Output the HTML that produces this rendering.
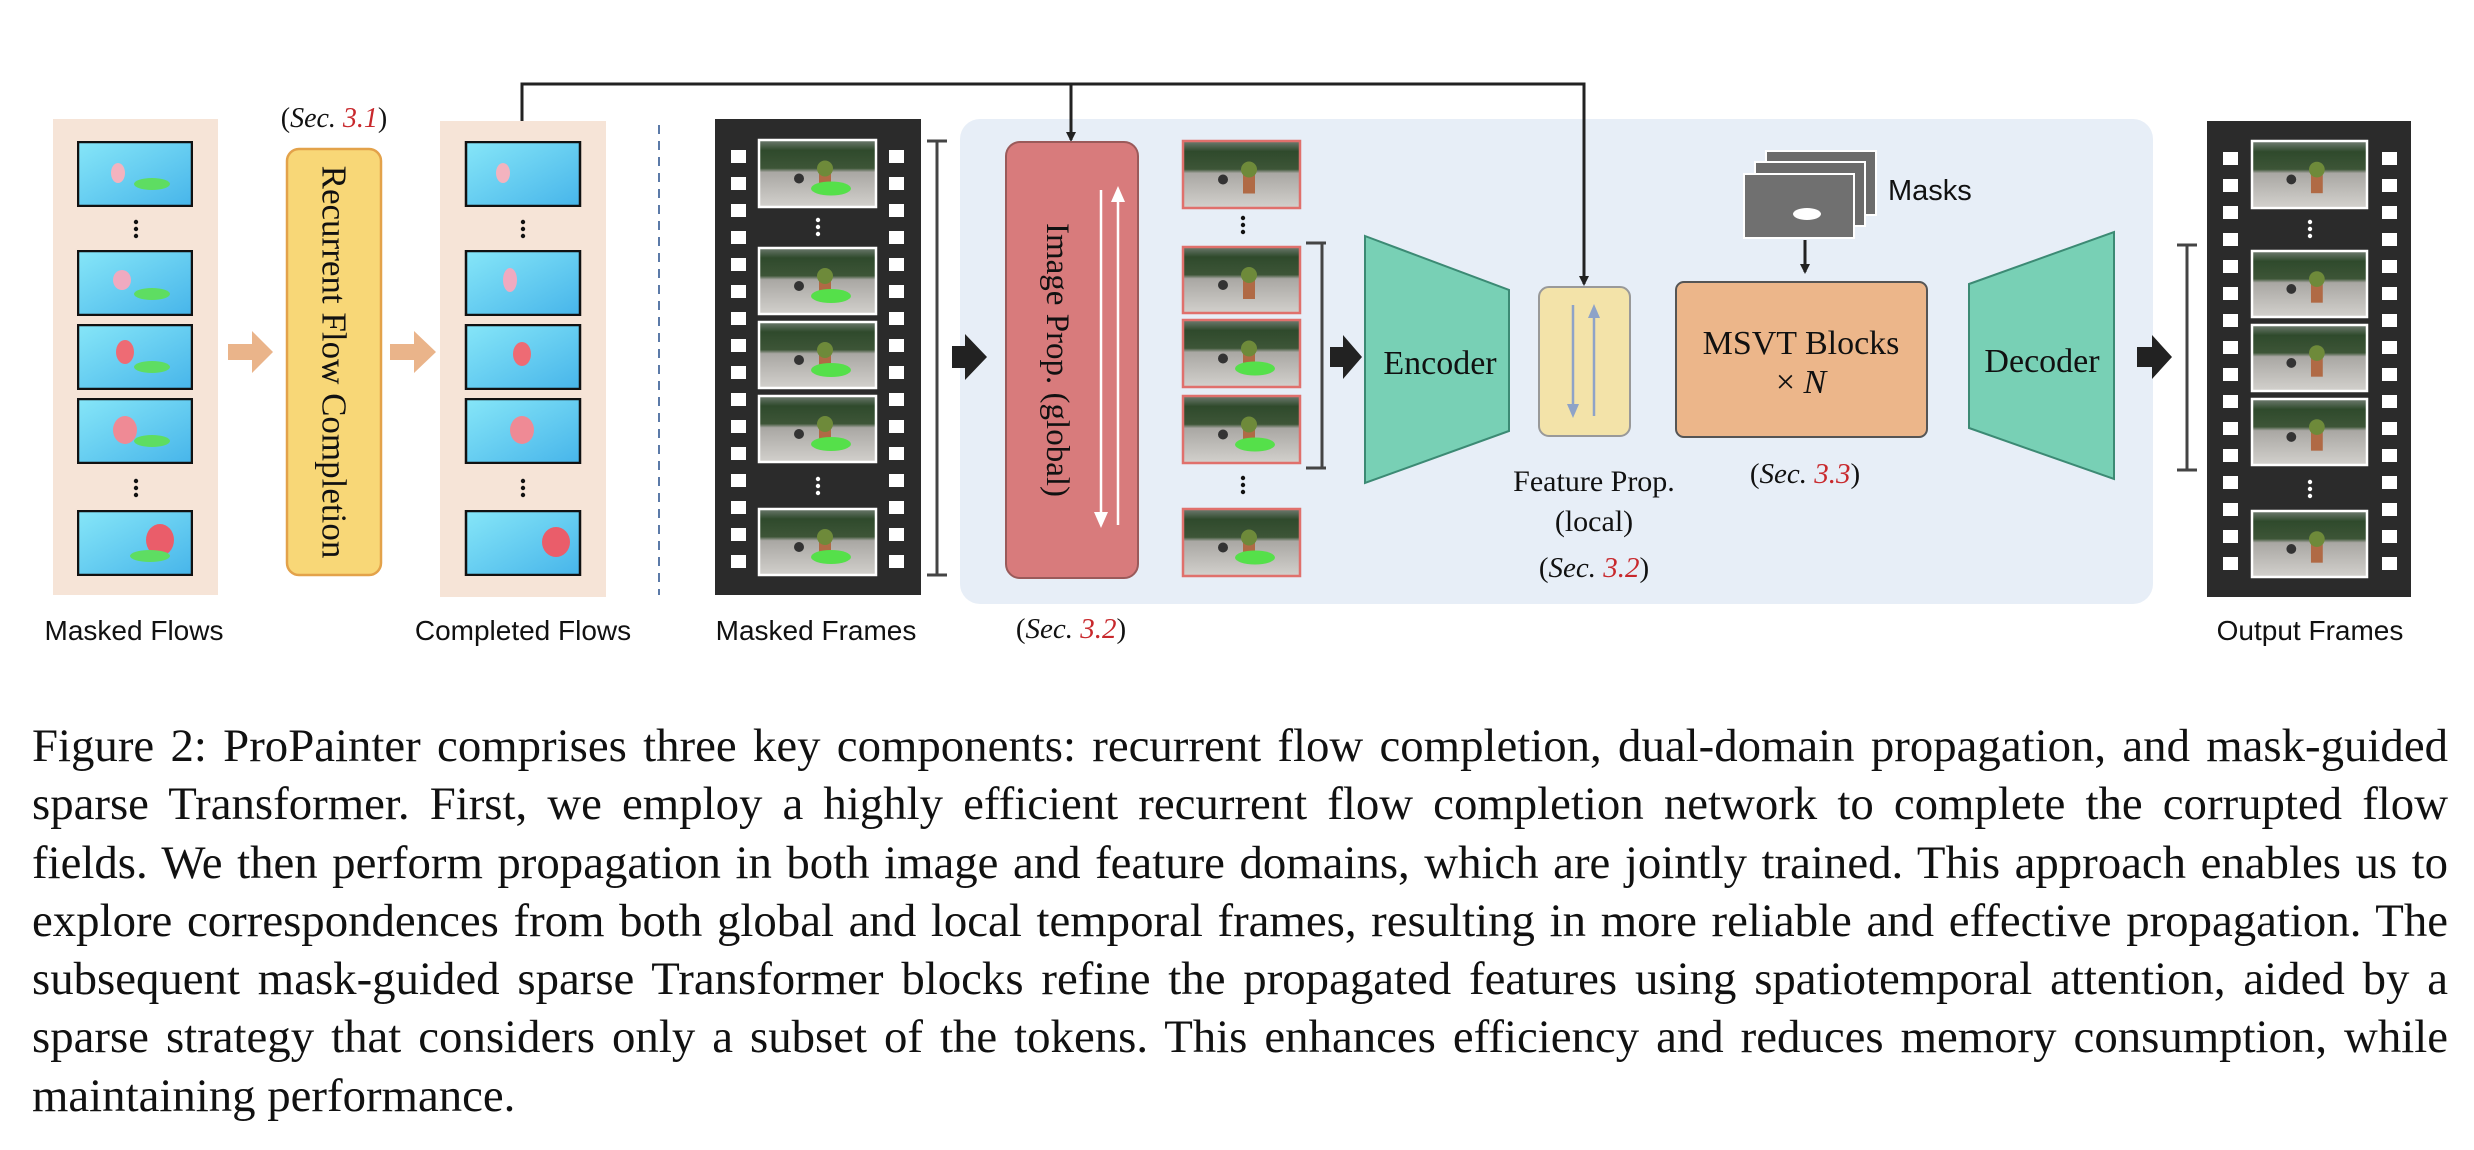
<!DOCTYPE html>
<html><head><meta charset="utf-8"><style>
html,body{margin:0;padding:0;background:#fff;}
body{width:2474px;height:1150px;position:relative;overflow:hidden;}
svg{position:absolute;left:0;top:0;}
.cap{position:absolute;left:32px;width:2416px;font-family:"Liberation Serif",serif;font-size:46.8px;line-height:58.3px;color:#111;}
.cap div{text-align:justify;text-align-last:justify;white-space:nowrap;height:58.3px;}
.cap div.last{text-align-last:left;}
</style></head><body>
<svg width="2474" height="720" viewBox="0 0 2474 720" xmlns="http://www.w3.org/2000/svg">
<defs>
<linearGradient id="fg" x1="0" y1="0" x2="1" y2="1"><stop offset="0" stop-color="#86e6f8"/><stop offset="1" stop-color="#47b5ea"/></linearGradient>
<linearGradient id="pg" x1="0" y1="0" x2="0" y2="1"><stop offset="0" stop-color="#6d7a6e"/><stop offset="0.15" stop-color="#2f4a2c"/><stop offset="0.42" stop-color="#3d5537"/><stop offset="0.48" stop-color="#a9a7a3"/><stop offset="1" stop-color="#d2d0cc"/></linearGradient>
<symbol id="flow" viewBox="0 0 116 66"><rect x="1" y="1" width="114" height="64" fill="url(#fg)" stroke="#111" stroke-width="2.5"/></symbol>
<symbol id="photo" viewBox="0 0 117 66"><rect x="0" y="0" width="117" height="66" fill="url(#pg)"/><rect x="60" y="30" width="12" height="22" fill="#b06a45"/><circle cx="66" cy="28" r="8" fill="#6e8a3a"/><circle cx="40" cy="38" r="5" fill="#333"/></symbol>
<symbol id="pm" viewBox="0 0 117 66"><use href="#photo" width="117" height="66"/><ellipse cx="72" cy="48" rx="20" ry="7" fill="#55e04a"/></symbol>
<marker id="ah" markerWidth="10" markerHeight="10" refX="8" refY="5" orient="auto" markerUnits="userSpaceOnUse"><path d="M0,0 L10,5 L0,10 z" fill="#222"/></marker>
</defs>
<rect x="960" y="119" width="1193" height="485" rx="20" fill="#e7eef7"/>
<rect x="53" y="119" width="165" height="476" fill="#f6e4d7"/>
<g>
<use href="#flow" x="77" y="141" width="116" height="66"/>
<use href="#flow" x="77" y="250" width="116" height="66"/>
<use href="#flow" x="77" y="324" width="116" height="66"/>
<use href="#flow" x="77" y="398" width="116" height="66"/>
<use href="#flow" x="77" y="510" width="116" height="66"/>
<ellipse cx="118" cy="173" rx="7" ry="10" fill="#f3b3bf"/><ellipse cx="152" cy="184" rx="18" ry="6" fill="#5edd62"/>
<ellipse cx="122" cy="280" rx="9" ry="10" fill="#f0aac0"/><ellipse cx="152" cy="294" rx="18" ry="6" fill="#5edd62"/>
<ellipse cx="125" cy="352" rx="9" ry="12" fill="#ee6b74"/><ellipse cx="152" cy="367" rx="18" ry="6" fill="#5edd62"/>
<ellipse cx="125" cy="430" rx="12" ry="14" fill="#ef8a95"/><ellipse cx="152" cy="441" rx="18" ry="6" fill="#5edd62"/>
<ellipse cx="160" cy="540" rx="14" ry="16" fill="#ea5d6a"/><ellipse cx="150" cy="556" rx="20" ry="6" fill="#5edd62"/>
</g>
<g fill="#111"><circle cx="136" cy="222" r="2.2"/><circle cx="136" cy="229" r="2.2"/><circle cx="136" cy="236" r="2.2"/>
<circle cx="136" cy="481" r="2.2"/><circle cx="136" cy="488" r="2.2"/><circle cx="136" cy="495" r="2.2"/></g>
<path d="M228,344 L252,344 L252,331 L273,352 L252,373 L252,360 L228,360 z" fill="#eab48a"/>
<path d="M390,344 L414,344 L414,331 L436,352 L414,373 L414,360 L390,360 z" fill="#eab48a"/>
<rect x="287" y="149" width="94" height="426" rx="12" fill="#f8d777" stroke="#e3a24a" stroke-width="2.5"/>
<text transform="translate(334,362) rotate(90)" text-anchor="middle" dominant-baseline="central" font-family="Liberation Serif,serif" font-size="35" fill="#111">Recurrent Flow Completion</text>
<text x="334" y="127" text-anchor="middle" font-family="Liberation Serif,serif" font-size="28" fill="#111">(<tspan font-style="italic">Sec.</tspan> <tspan font-style="italic" fill="#c8282c">3.1</tspan>)</text>
<rect x="440" y="121" width="166" height="476" fill="#f6e4d7"/>
<use href="#flow" x="464" y="141" width="118" height="66"/>
<use href="#flow" x="464" y="250" width="118" height="66"/>
<use href="#flow" x="464" y="324" width="118" height="66"/>
<use href="#flow" x="464" y="398" width="118" height="66"/>
<use href="#flow" x="464" y="510" width="118" height="66"/>
<ellipse cx="503" cy="173" rx="7" ry="10" fill="#f3b3bf"/><ellipse cx="510" cy="280" rx="7" ry="12" fill="#f0aac0"/>
<ellipse cx="522" cy="354" rx="9" ry="12" fill="#ee6b74"/><ellipse cx="522" cy="430" rx="12" ry="14" fill="#ef8a95"/>
<ellipse cx="556" cy="542" rx="14" ry="15" fill="#ea5d6a"/>
<g fill="#111"><circle cx="523" cy="222" r="2.2"/><circle cx="523" cy="229" r="2.2"/><circle cx="523" cy="236" r="2.2"/>
<circle cx="523" cy="481" r="2.2"/><circle cx="523" cy="488" r="2.2"/><circle cx="523" cy="495" r="2.2"/></g>
<line x1="659" y1="125" x2="659" y2="595" stroke="#5b7aa8" stroke-width="2" stroke-dasharray="9,7"/>
<path d="M522,121 L522,84 L1584,84 L1584,284" fill="none" stroke="#222" stroke-width="3" marker-end="url(#ah)"/>
<path d="M1071,84 L1071,140" fill="none" stroke="#222" stroke-width="3" marker-end="url(#ah)"/>
<rect x="715" y="119" width="206" height="476" fill="#2b2b2b"/>
<g fill="#fff">
<rect x="731" y="150" width="15" height="13"/><rect x="731" y="177" width="15" height="13"/><rect x="731" y="204" width="15" height="13"/><rect x="731" y="231" width="15" height="13"/><rect x="731" y="258" width="15" height="13"/><rect x="731" y="285" width="15" height="13"/><rect x="731" y="312" width="15" height="13"/><rect x="731" y="339" width="15" height="13"/><rect x="731" y="366" width="15" height="13"/><rect x="731" y="393" width="15" height="13"/><rect x="731" y="420" width="15" height="13"/><rect x="731" y="447" width="15" height="13"/><rect x="731" y="474" width="15" height="13"/><rect x="731" y="501" width="15" height="13"/><rect x="731" y="528" width="15" height="13"/><rect x="731" y="555" width="15" height="13"/>
<rect x="889" y="150" width="15" height="13"/><rect x="889" y="177" width="15" height="13"/><rect x="889" y="204" width="15" height="13"/><rect x="889" y="231" width="15" height="13"/><rect x="889" y="258" width="15" height="13"/><rect x="889" y="285" width="15" height="13"/><rect x="889" y="312" width="15" height="13"/><rect x="889" y="339" width="15" height="13"/><rect x="889" y="366" width="15" height="13"/><rect x="889" y="393" width="15" height="13"/><rect x="889" y="420" width="15" height="13"/><rect x="889" y="447" width="15" height="13"/><rect x="889" y="474" width="15" height="13"/><rect x="889" y="501" width="15" height="13"/><rect x="889" y="528" width="15" height="13"/><rect x="889" y="555" width="15" height="13"/>
</g>
<use href="#pm" x="759" y="140" width="117" height="67"/><use href="#pm" x="759" y="248" width="117" height="66"/><use href="#pm" x="759" y="322" width="117" height="66"/><use href="#pm" x="759" y="396" width="117" height="66"/><use href="#pm" x="759" y="509" width="117" height="66"/>
<g fill="none" stroke="#fff" stroke-width="2.5"><rect x="759" y="140" width="117" height="67"/><rect x="759" y="248" width="117" height="66"/><rect x="759" y="322" width="117" height="66"/><rect x="759" y="396" width="117" height="66"/><rect x="759" y="509" width="117" height="66"/></g>
<g fill="#fff"><circle cx="818" cy="220" r="2.2"/><circle cx="818" cy="227" r="2.2"/><circle cx="818" cy="234" r="2.2"/><circle cx="818" cy="479" r="2.2"/><circle cx="818" cy="486" r="2.2"/><circle cx="818" cy="493" r="2.2"/></g>
<path d="M927,141 L947,141 M937,141 L937,575 M927,575 L947,575" stroke="#444" stroke-width="3" fill="none"/>
<path d="M952,346 L965,346 L965,334 L987,357 L965,380 L965,368 L952,368 z" fill="#222"/>
<path d="M1330,347 L1343,347 L1343,335 L1362,357 L1343,379 L1343,367 L1330,367 z" fill="#222"/>
<path d="M2137,347 L2152,347 L2152,335 L2172,357 L2152,379 L2152,367 L2137,367 z" fill="#222"/>
<rect x="1006" y="142" width="132" height="436" rx="14" fill="#d87b7c" stroke="#9a5a5a" stroke-width="2"/>
<text transform="translate(1057,360) rotate(90)" text-anchor="middle" dominant-baseline="central" font-family="Liberation Serif,serif" font-size="33" fill="#111">Image Prop. (global)</text>
<line x1="1101" y1="190" x2="1101" y2="515" stroke="#fff" stroke-width="2.5"/><path d="M1094,512 L1101,528 L1108,512 z" fill="#fff"/>
<line x1="1118" y1="200" x2="1118" y2="525" stroke="#fff" stroke-width="2.5"/><path d="M1111,202 L1118,186 L1125,202 z" fill="#fff"/>
<text x="1071" y="638" text-anchor="middle" font-family="Liberation Serif,serif" font-size="29" fill="#111">(<tspan font-style="italic">Sec.</tspan> <tspan font-style="italic" fill="#c8282c">3.2</tspan>)</text>
<use href="#photo" x="1183" y="141" width="117" height="67"/><use href="#photo" x="1183" y="247" width="117" height="66"/><use href="#pm" x="1183" y="320" width="117" height="67"/><use href="#pm" x="1183" y="396" width="117" height="67"/><use href="#pm" x="1183" y="509" width="117" height="67"/>
<g fill="none" stroke="#e0706c" stroke-width="2.5"><rect x="1183" y="141" width="117" height="67"/><rect x="1183" y="247" width="117" height="66"/><rect x="1183" y="320" width="117" height="67"/><rect x="1183" y="396" width="117" height="67"/><rect x="1183" y="509" width="117" height="67"/></g>
<g fill="#111"><circle cx="1243" cy="218" r="2.2"/><circle cx="1243" cy="225" r="2.2"/><circle cx="1243" cy="232" r="2.2"/><circle cx="1243" cy="478" r="2.2"/><circle cx="1243" cy="485" r="2.2"/><circle cx="1243" cy="492" r="2.2"/></g>
<path d="M1306,243 L1326,243 M1322,243 L1322,468 M1306,468 L1326,468" stroke="#444" stroke-width="3" fill="none"/>
<path d="M1365,236 L1509,290 L1509,431 L1365,483 z" fill="#78d0b5" stroke="#3c8a74" stroke-width="2"/>
<text x="1440" y="374" text-anchor="middle" font-family="Liberation Serif,serif" font-size="34" fill="#111">Encoder</text>
<rect x="1539" y="287" width="91" height="149" rx="10" fill="#f3e3a9" stroke="#999" stroke-width="2"/>
<line x1="1573" y1="305" x2="1573" y2="408" stroke="#8ea3c8" stroke-width="2.5"/><path d="M1567,404 L1573,418 L1579,404 z" fill="#8ea3c8"/>
<line x1="1594" y1="315" x2="1594" y2="416" stroke="#8ea3c8" stroke-width="2.5"/><path d="M1588,318 L1594,304 L1600,318 z" fill="#8ea3c8"/>
<text x="1594" y="491" text-anchor="middle" font-family="Liberation Serif,serif" font-size="30" fill="#111">Feature Prop.</text>
<text x="1594" y="531" text-anchor="middle" font-family="Liberation Serif,serif" font-size="30" fill="#111">(local)</text>
<text x="1594" y="577" text-anchor="middle" font-family="Liberation Serif,serif" font-size="29" fill="#111">(<tspan font-style="italic">Sec.</tspan> <tspan font-style="italic" fill="#c8282c">3.2</tspan>)</text>
<rect x="1766" y="151" width="110" height="64" fill="#6b6b6b" stroke="#fff" stroke-width="2"/>
<rect x="1755" y="162" width="110" height="64" fill="#6b6b6b" stroke="#fff" stroke-width="2"/>
<rect x="1744" y="174" width="110" height="64" fill="#707070" stroke="#fff" stroke-width="2"/>
<ellipse cx="1807" cy="214" rx="14" ry="6" fill="#fff"/>
<text x="1888" y="200" font-family="Liberation Sans,sans-serif" font-size="29" fill="#111">Masks</text>
<line x1="1805" y1="240" x2="1805" y2="272" stroke="#222" stroke-width="3" marker-end="url(#ah)"/>
<rect x="1676" y="282" width="251" height="155" rx="8" fill="#ecb68a" stroke="#555" stroke-width="2"/>
<text x="1801" y="354" text-anchor="middle" font-family="Liberation Serif,serif" font-size="34" fill="#111">MSVT Blocks</text>
<text x="1801" y="393" text-anchor="middle" font-family="Liberation Serif,serif" font-size="34" fill="#111">× <tspan font-style="italic">N</tspan></text>
<text x="1805" y="483" text-anchor="middle" font-family="Liberation Serif,serif" font-size="29" fill="#111">(<tspan font-style="italic">Sec.</tspan> <tspan font-style="italic" fill="#c8282c">3.3</tspan>)</text>
<path d="M1969,284 L2114,232 L2114,479 L1969,428 z" fill="#78d0b5" stroke="#3c8a74" stroke-width="2"/>
<text x="2042" y="372" text-anchor="middle" font-family="Liberation Serif,serif" font-size="34" fill="#111">Decoder</text>
<path d="M2177,245 L2197,245 M2187,245 L2187,470 M2177,470 L2197,470" stroke="#444" stroke-width="3" fill="none"/>
<rect x="2207" y="121" width="204" height="476" fill="#2b2b2b"/>
<g fill="#fff">
<rect x="2223" y="152" width="15" height="13"/><rect x="2223" y="179" width="15" height="13"/><rect x="2223" y="206" width="15" height="13"/><rect x="2223" y="233" width="15" height="13"/><rect x="2223" y="260" width="15" height="13"/><rect x="2223" y="287" width="15" height="13"/><rect x="2223" y="314" width="15" height="13"/><rect x="2223" y="341" width="15" height="13"/><rect x="2223" y="368" width="15" height="13"/><rect x="2223" y="395" width="15" height="13"/><rect x="2223" y="422" width="15" height="13"/><rect x="2223" y="449" width="15" height="13"/><rect x="2223" y="476" width="15" height="13"/><rect x="2223" y="503" width="15" height="13"/><rect x="2223" y="530" width="15" height="13"/><rect x="2223" y="557" width="15" height="13"/>
<rect x="2382" y="152" width="15" height="13"/><rect x="2382" y="179" width="15" height="13"/><rect x="2382" y="206" width="15" height="13"/><rect x="2382" y="233" width="15" height="13"/><rect x="2382" y="260" width="15" height="13"/><rect x="2382" y="287" width="15" height="13"/><rect x="2382" y="314" width="15" height="13"/><rect x="2382" y="341" width="15" height="13"/><rect x="2382" y="368" width="15" height="13"/><rect x="2382" y="395" width="15" height="13"/><rect x="2382" y="422" width="15" height="13"/><rect x="2382" y="449" width="15" height="13"/><rect x="2382" y="476" width="15" height="13"/><rect x="2382" y="503" width="15" height="13"/><rect x="2382" y="530" width="15" height="13"/><rect x="2382" y="557" width="15" height="13"/>
</g>
<use href="#photo" x="2252" y="141" width="115" height="67"/><use href="#photo" x="2252" y="251" width="115" height="66"/><use href="#photo" x="2252" y="325" width="115" height="66"/><use href="#photo" x="2252" y="399" width="115" height="66"/><use href="#photo" x="2252" y="511" width="115" height="66"/>
<g fill="none" stroke="#fff" stroke-width="2.5"><rect x="2252" y="141" width="115" height="67"/><rect x="2252" y="251" width="115" height="66"/><rect x="2252" y="325" width="115" height="66"/><rect x="2252" y="399" width="115" height="66"/><rect x="2252" y="511" width="115" height="66"/></g>
<g fill="#fff"><circle cx="2310" cy="222" r="2.2"/><circle cx="2310" cy="229" r="2.2"/><circle cx="2310" cy="236" r="2.2"/><circle cx="2310" cy="482" r="2.2"/><circle cx="2310" cy="489" r="2.2"/><circle cx="2310" cy="496" r="2.2"/></g>
<g font-family="Liberation Sans,sans-serif" font-size="28" fill="#111" text-anchor="middle">
<text x="134" y="640">Masked Flows</text>
<text x="523" y="640">Completed Flows</text>
<text x="816" y="640">Masked Frames</text>
<text x="2310" y="640">Output Frames</text>
</g>
</svg>
<div class="cap" style="top:717px;">
<div>Figure 2: ProPainter comprises three key components: recurrent flow completion, dual-domain propagation, and mask-guided</div>
<div>sparse Transformer. First, we employ a highly efficient recurrent flow completion network to complete the corrupted flow</div>
<div>fields. We then perform propagation in both image and feature domains, which are jointly trained. This approach enables us to</div>
<div>explore correspondences from both global and local temporal frames, resulting in more reliable and effective propagation. The</div>
<div>subsequent mask-guided sparse Transformer blocks refine the propagated features using spatiotemporal attention, aided by a</div>
<div>sparse strategy that considers only a subset of the tokens. This enhances efficiency and reduces memory consumption, while</div>
<div class="last">maintaining performance.</div>
</div>
</body></html>
